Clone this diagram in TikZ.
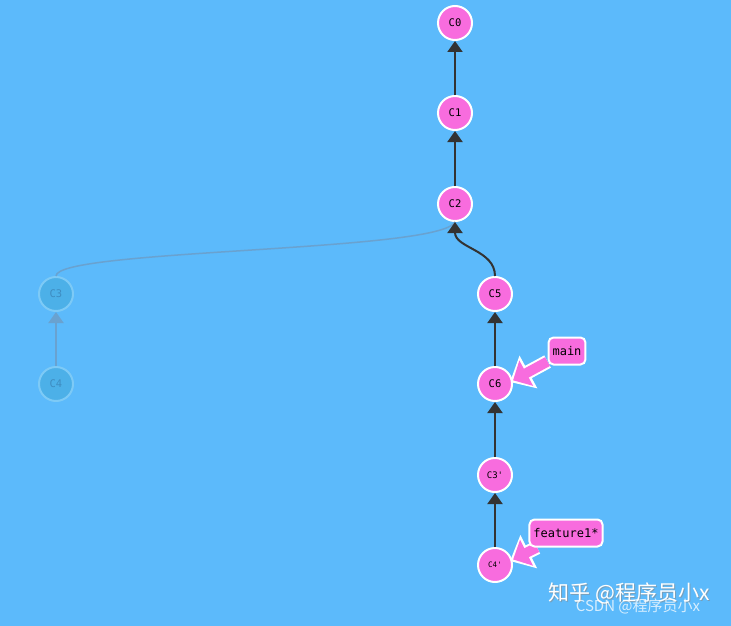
\documentclass[tikz,border=0pt]{standalone}
\usepackage{fontspec}
\setmonofont{DejaVu Sans Mono}
\newfontfamily\cjk{Noto Sans CJK SC}
\usetikzlibrary{arrows.meta}

\definecolor{bgblue}{RGB}{92,186,251}
\definecolor{commitpink}{RGB}{248,108,222}
\definecolor{edgedark}{RGB}{51,51,51}
\definecolor{ghostfill}{RGB}{76,176,232}
\definecolor{ghostrim}{RGB}{125,202,246}
\definecolor{ghostedge}{RGB}{105,162,208}
\definecolor{ghosttext}{RGB}{62,140,192}

\pgfdeclarelayer{back}
\pgfsetlayers{back,main}

\tikzset{
  commit/.style={circle, fill=commitpink, draw=white, line width=2pt,
    minimum size=34pt, inner sep=0pt, font=\ttfamily\fontsize{10.5}{10.5}\selectfont},
  ghost/.style={commit, fill=ghostfill, draw=ghostrim, text=ghosttext},
  parent/.style={draw=edgedark, line width=2pt, -{Triangle[width=15pt,length=11pt]}},
  ghostparent/.style={parent, draw=ghostedge, fill=ghostedge},
  branch/.style={rectangle, rounded corners=5pt, fill=commitpink, draw=white,
    line width=2pt, minimum height=27pt, inner xsep=4pt,
    font=\ttfamily\fontsize{12}{12}\selectfont},
  flagrim/.style={draw=white, line width=14pt, -{Triangle[width=36pt,length=21pt]}},
  flagbody/.style={draw=commitpink, line width=10pt, shorten >=3.5pt,
    -{Triangle[width=28pt,length=15pt]}}
}

\begin{document}
\begin{tikzpicture}[x=1pt,y=1pt]

\begin{pgfonlayer}{back}
\fill[bgblue] (0,0) rectangle (731,-626);
\end{pgfonlayer}
\useasboundingbox (0,0) rectangle (731,-626);

% commits of the rebased line
\node[commit] (C0) at (455,-23) {C0};
\node[commit] (C1) at (455,-113) {C1};
\node[commit] (C2) at (455,-204) {C2};
\node[commit] (C5) at (495,-294) {C5};
\node[commit] (C6) at (495,-384) {C6};
\node[commit, font=\ttfamily\fontsize{9}{9}\selectfont] (C3b) at (495,-475) {C3'};
\node[commit, font=\ttfamily\fontsize{7.5}{7.5}\selectfont] (C4b) at (495,-565) {C4'};

% old commits, faded
\node[ghost] (C3) at (56,-294) {C3};
\node[ghost] (C4) at (56,-384) {C4};

\draw[draw=ghostedge, line width=1.5pt] (C3.north) .. controls (56,-249) and (440,-252) .. (C2.south);
\draw[ghostparent] (C4) -- (C3);

\draw[parent] (C1) -- (C0);
\draw[parent] (C2) -- (C1);
\draw[parent] (C5.north) to[out=90,in=-90] (C2.south);
\draw[parent] (C6) -- (C5);
\draw[parent] (C3b) -- (C6);
\draw[parent] (C4b) -- (C3b);

% branch labels
\node[branch] (main) at (567,-351) {main};
\node[branch] (feature) at (566,-533) {feature1*};

\coordinate (mainTip) at (510,-382);
\coordinate (featureTip) at (510,-561);

\begin{pgfonlayer}{back}
\draw[flagrim] (main) -- (mainTip);
\draw[flagbody] (main) -- (mainTip);
\draw[flagrim] (feature) -- (featureTip);
\draw[flagbody] (feature) -- (featureTip);
\end{pgfonlayer}

% watermark
\node[text=black!45, opacity=0.6, font=\cjk\fontsize{21}{21}\selectfont] (zhihuShadow) at (630,-594) {知乎 @程序员小x};
\node[text=white, font=\cjk\fontsize{21}{21}\selectfont] (zhihu) at (629,-593) {知乎 @程序员小x};
\node[text=white, opacity=0.75, font=\cjk\fontsize{15}{15}\selectfont] (csdn) at (638,-606) {CSDN @程序员小x};

\end{tikzpicture}
\end{document}
